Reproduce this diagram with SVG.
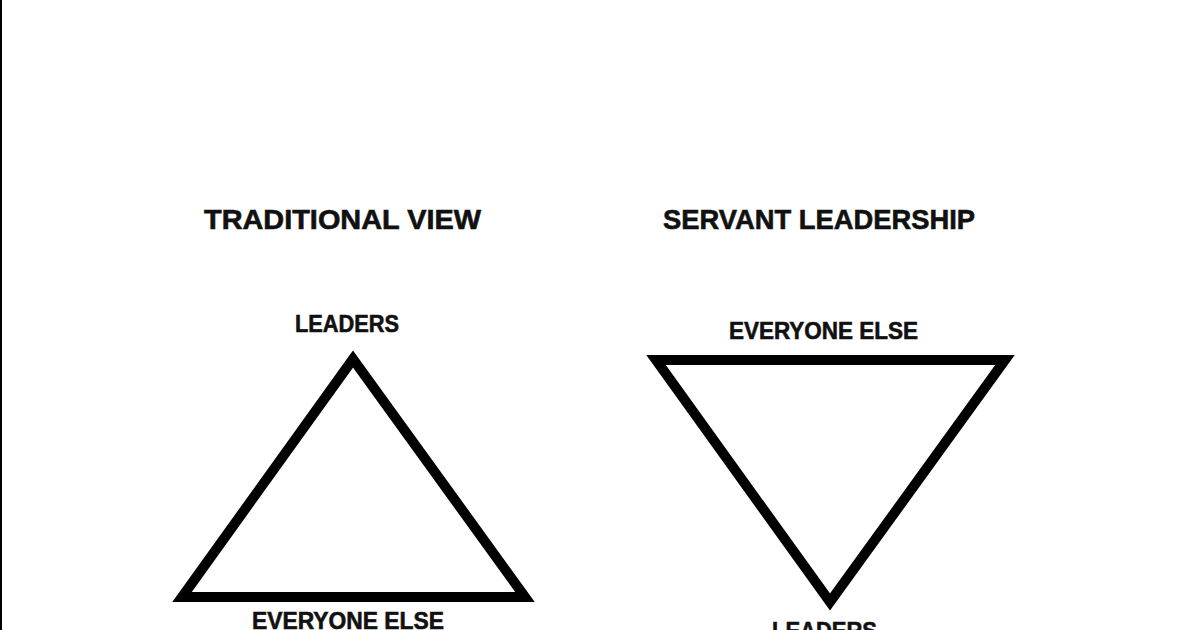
<svg xmlns="http://www.w3.org/2000/svg" width="1200" height="630" viewBox="0 0 1200 630">
<style>
.t{font-family:"Liberation Sans","DejaVu Sans",sans-serif;font-weight:bold;fill:#111;stroke:#111;stroke-width:0.6;}
.title{font-size:28px;}
.lbl{font-size:24px;}
.tri{fill:none;stroke:#000;stroke-width:10;stroke-linejoin:miter;stroke-miterlimit:10;}
</style>
<rect x="0" y="0" width="1200" height="630" fill="#fff"/>
<rect x="0" y="0" width="2" height="630" fill="#000"/>
<g id="traditional">
<text class="t title" x="204" y="229" textLength="277" lengthAdjust="spacingAndGlyphs">TRADITIONAL VIEW</text>
<polygon class="tri" points="353,359 182,597 525,597"/>
<text class="t lbl" x="295" y="332" textLength="104" lengthAdjust="spacingAndGlyphs">LEADERS</text>
<text class="t lbl" x="252" y="629" textLength="192" lengthAdjust="spacingAndGlyphs">EVERYONE ELSE</text>
</g>
<g id="servant">
<text class="t title" x="663" y="229" textLength="312" lengthAdjust="spacingAndGlyphs">SERVANT LEADERSHIP</text>
<polygon class="tri" points="656,360 1005,360 830,602"/>
<text class="t lbl" x="729" y="339" textLength="189" lengthAdjust="spacingAndGlyphs">EVERYONE ELSE</text>
<text class="t lbl" x="772" y="639" textLength="105" lengthAdjust="spacingAndGlyphs">LEADERS</text>
</g>
<g id="connectors"></g>
</svg>
